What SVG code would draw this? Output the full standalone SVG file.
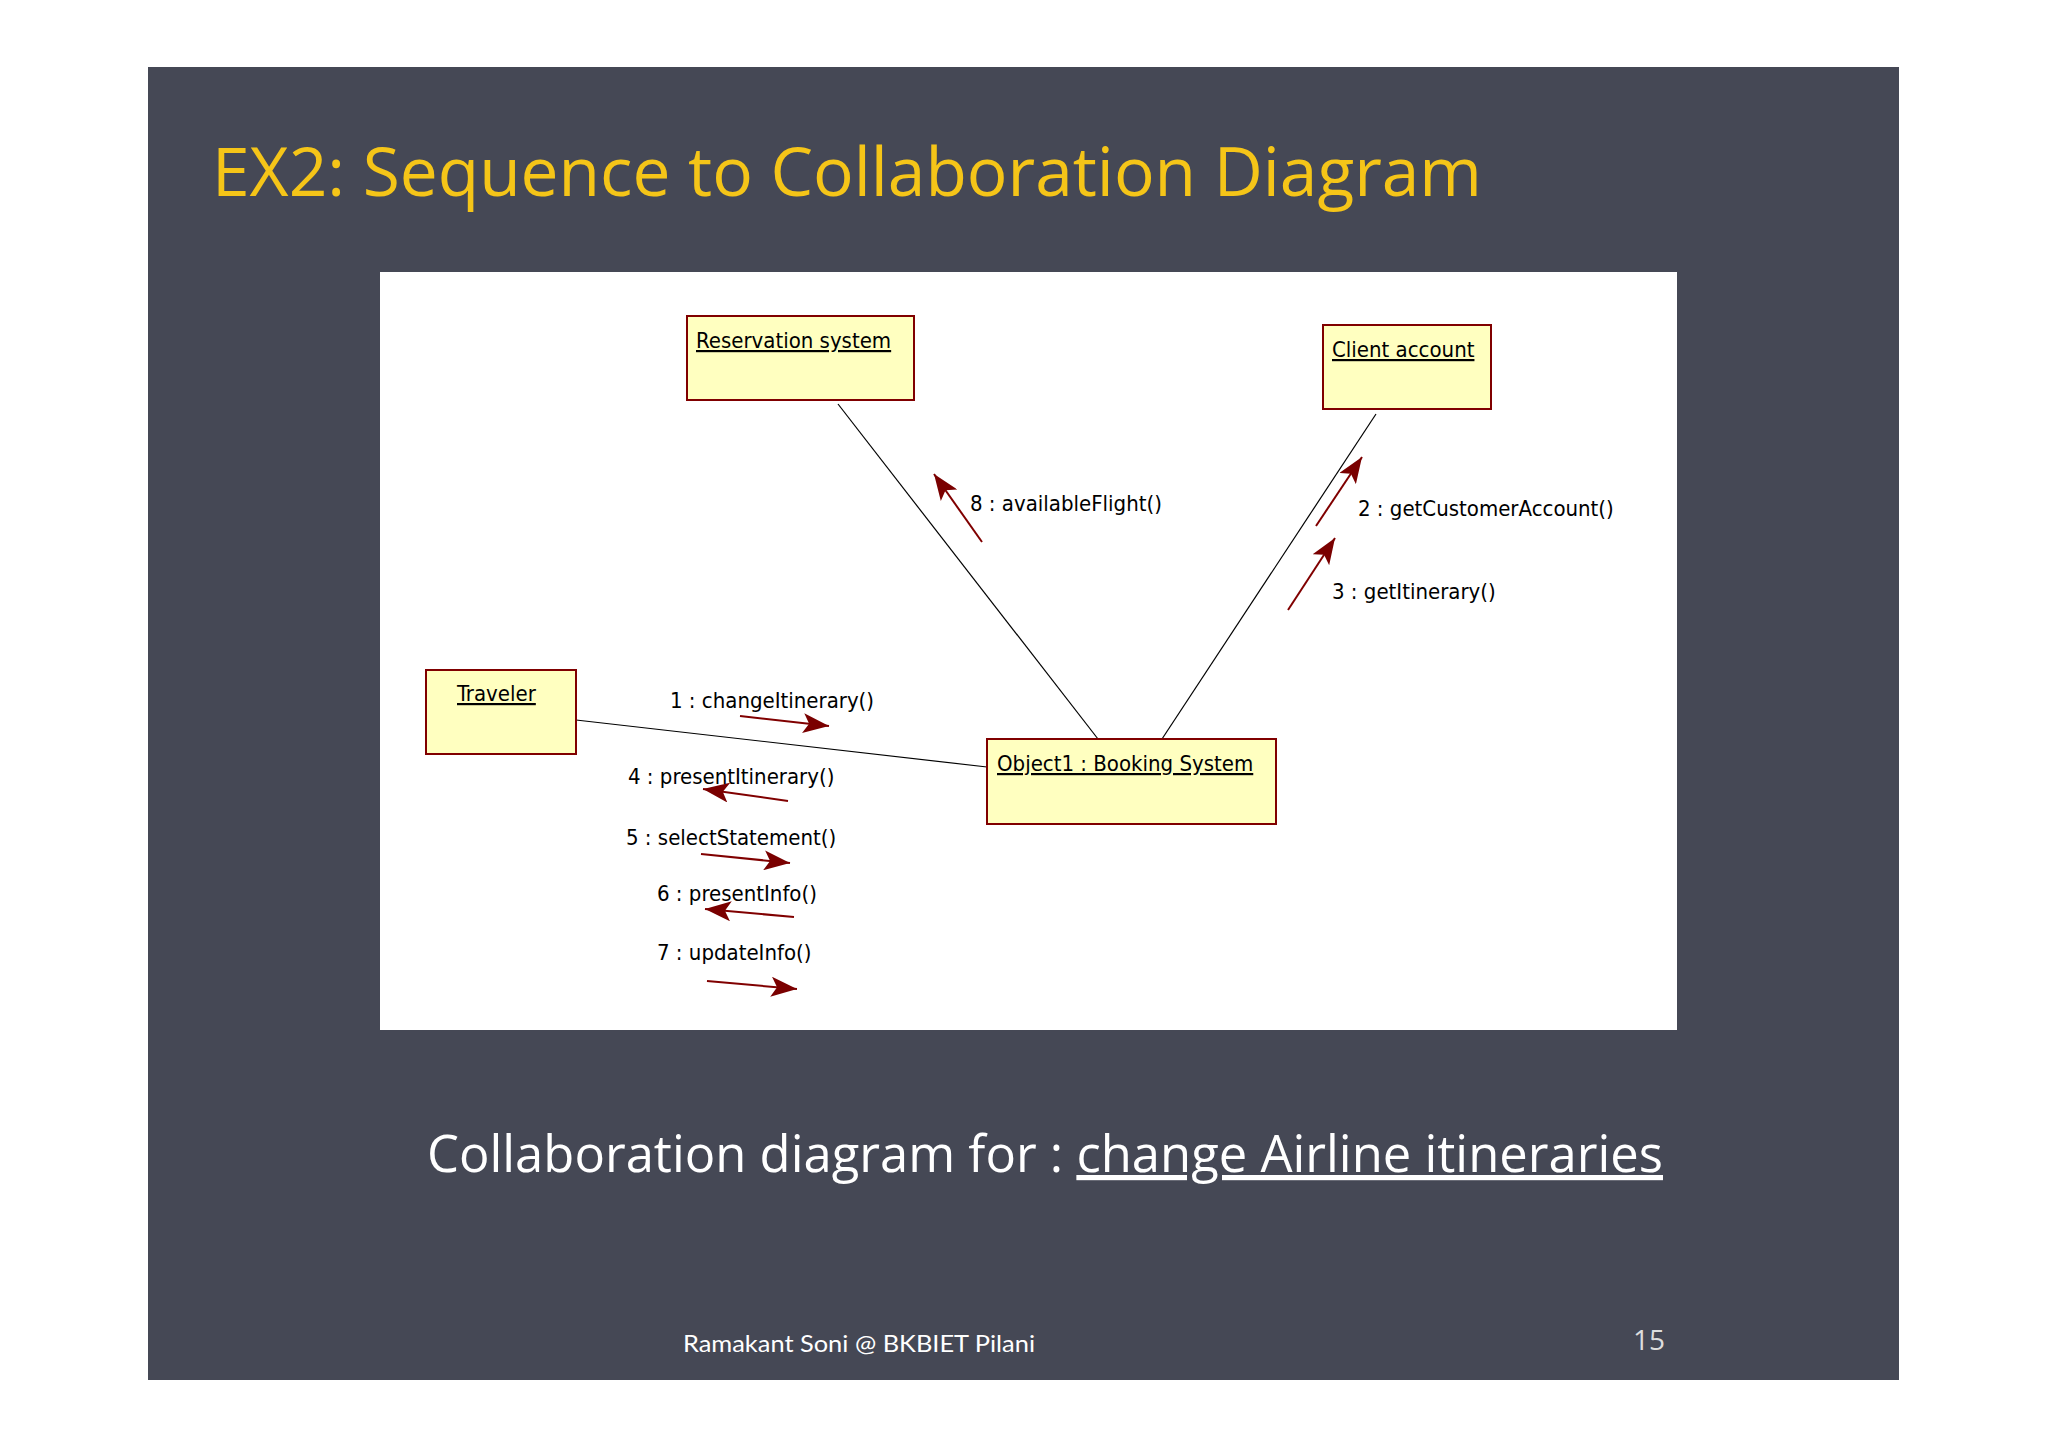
<svg xmlns="http://www.w3.org/2000/svg" width="2048" height="1448" viewBox="0 0 2048 1448">
<defs>
<style>
.box{fill:#ffffc0;stroke:#800000;stroke-width:2}
.ln{stroke:#000;stroke-width:1.2;fill:none}
.msg{stroke:#800000;stroke-width:2;fill:none}
.lbl{font-family:"DejaVu Sans Condensed","Liberation Sans",sans-serif;font-size:22px;fill:#000}
.nm{font-family:"DejaVu Sans Condensed","Liberation Sans",sans-serif;font-size:22px;fill:#000;text-decoration:underline}
</style>
<marker id="ah" viewBox="0 0 10 10" refX="10" refY="5" markerWidth="8" markerHeight="8" markerUnits="userSpaceOnUse" orient="auto" style="overflow:visible">
<path d="M0,0 L26,5 L0,10 Z" transform="translate(-16,-5) scale(1,2)" fill="#800000"/>
</marker>
<marker id="a2" viewBox="0 0 26 20" refX="26" refY="10" markerWidth="26" markerHeight="20" markerUnits="userSpaceOnUse" orient="auto">
<path d="M0,0 L26,10 L0,20 L6,10 Z" fill="#7a0000"/>
</marker>
</defs>
<rect width="2048" height="1448" fill="#fff"/>
<rect x="148" y="67" width="1751" height="1313" fill="#454855"/>
<text x="212" y="196" font-family="Open Sans,Liberation Sans,sans-serif" font-size="68" fill="#f5c518" textLength="1270" lengthAdjust="spacingAndGlyphs">EX2: Sequence to Collaboration Diagram</text>
<rect x="380" y="272" width="1297" height="758" fill="#fff"/>
<g id="connectors">
<line class="ln" x1="838" y1="404" x2="1098" y2="739"/>
<line class="ln" x1="1376" y1="414" x2="1162" y2="739"/>
<line class="ln" x1="576" y1="720" x2="987" y2="767" stroke="#600000"/>
<line class="msg" x1="982" y1="542" x2="934" y2="474" marker-end="url(#a2)"/>
<line class="msg" x1="1316" y1="526" x2="1362" y2="457" marker-end="url(#a2)"/>
<line class="msg" x1="1288" y1="610" x2="1335" y2="538" marker-end="url(#a2)"/>
<line class="msg" x1="740" y1="716" x2="829" y2="726" marker-end="url(#a2)"/>
<line class="msg" x1="788" y1="801" x2="703" y2="789" marker-end="url(#a2)"/>
<line class="msg" x1="701" y1="854" x2="790" y2="863" marker-end="url(#a2)"/>
<line class="msg" x1="794" y1="917" x2="705" y2="909" marker-end="url(#a2)"/>
<line class="msg" x1="707" y1="981" x2="797" y2="989" marker-end="url(#a2)"/>
<text class="lbl" x="970" y="511">8 : availableFlight()</text>
<text class="lbl" x="1358" y="516">2 : getCustomerAccount()</text>
<text class="lbl" x="1332" y="599">3 : getItinerary()</text>
<text class="lbl" x="670" y="708">1 : changeItinerary()</text>
<text class="lbl" x="628" y="784">4 : presentItinerary()</text>
<text class="lbl" x="626" y="845">5 : selectStatement()</text>
<text class="lbl" x="657" y="901">6 : presentInfo()</text>
<text class="lbl" x="657" y="960">7 : updateInfo()</text>
</g>
<g id="reservation"><rect class="box" x="687" y="316" width="227" height="84"/><text class="nm" x="696" y="348">Reservation system</text></g>
<g id="client"><rect class="box" x="1323" y="325" width="168" height="84"/><text class="nm" x="1332" y="357">Client account</text></g>
<g id="traveler"><rect class="box" x="426" y="670" width="150" height="84"/><text class="nm" x="457" y="701">Traveler</text></g>
<g id="booking"><rect class="box" x="987" y="739" width="289" height="85"/><text class="nm" x="997" y="771">Object1 : Booking System</text></g>
<text x="427" y="1172" font-family="Open Sans,Liberation Sans,sans-serif" font-size="52" fill="#fff" textLength="1236" lengthAdjust="spacingAndGlyphs">Collaboration diagram for : <tspan text-decoration="underline">change Airline itineraries</tspan></text>
<text x="683" y="1352" font-family="Lato,Liberation Sans,sans-serif" font-size="24" fill="#fff" textLength="352" lengthAdjust="spacingAndGlyphs">Ramakant Soni @ BKBIET Pilani</text>
<text x="1665" y="1350" font-family="Open Sans,Liberation Sans,sans-serif" font-size="28" fill="#ddd" text-anchor="end">15</text>
</svg>
